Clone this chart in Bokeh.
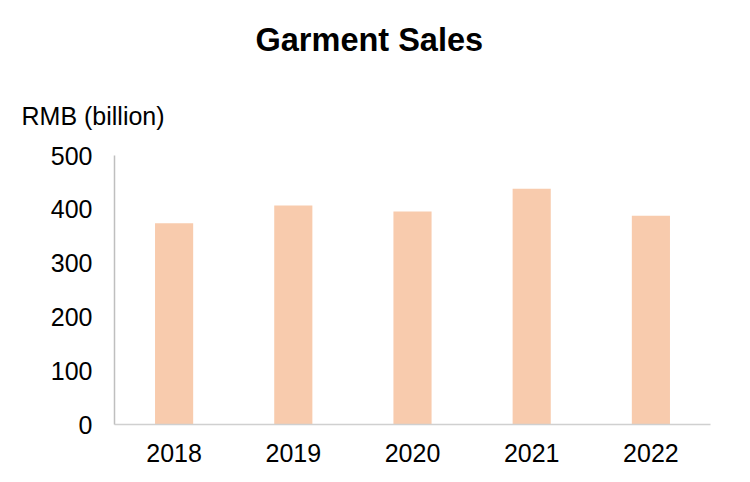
from bokeh.plotting import figure
from bokeh.models import FactorRange, Range1d, FixedTicker, Title, ColumnDataSource
from bokeh.embed import file_html
from bokeh.resources import INLINE

years = ["2018", "2019", "2020", "2021", "2022"]
sales = [374, 407, 396, 438, 388]
y_ticks = [0, 100, 200, 300, 400, 500]
title_text = "Garment Sales"
unit_text = "RMB (billion)"

FONT = "Liberation Sans"

src = ColumnDataSource(data=dict(year=years, sales=sales))

p = figure(
    width=750, height=482,
    x_range=FactorRange(factors=years, range_padding=0),
    y_range=Range1d(0, 500),
    output_backend="svg", toolbar_location=None,
    min_border_left=114, min_border_right=40,
    min_border_top=155, min_border_bottom=58,
)
p.outline_line_color = None
p.background_fill_color = "white"
p.border_fill_color = "white"

p.vbar(x="year", top="sales", width=0.32, source=src,
       fill_color="#F8CBAD", line_color=None)

p.xgrid.visible = False
p.ygrid.visible = False

p.yaxis.ticker = FixedTicker(ticks=y_ticks)
for ax in (p.xaxis[0], p.yaxis[0]):
    ax.major_tick_line_color = None
    ax.minor_tick_line_color = None
    ax.major_tick_out = 0
    ax.major_tick_in = 0
    ax.major_label_text_font = FONT
    ax.major_label_text_font_size = "25px"
    ax.major_label_text_color = "#000000"

p.yaxis.axis_line_color = "#BFBFBF"
p.yaxis.axis_line_width = 1.5
p.yaxis.major_label_standoff = 22
p.xaxis.axis_line_color = "#D0D0D0"
p.xaxis.axis_line_width = 1.5
p.xaxis.major_label_standoff = 19

unit_title = Title(text=unit_text, align="left", offset=-93,
                   text_font=FONT, text_font_size="25px",
                   text_font_style="normal", text_color="#000000",
                   standoff=51)
main_title = Title(text=title_text, align="left", offset=141,
                   text_font=FONT, text_font_size="32.5px",
                   text_font_style="bold", text_color="#000000",
                   standoff=33)
p.add_layout(unit_title, "above")
p.add_layout(main_title, "above")

open("out.html", "w").write(file_html(p, INLINE))
